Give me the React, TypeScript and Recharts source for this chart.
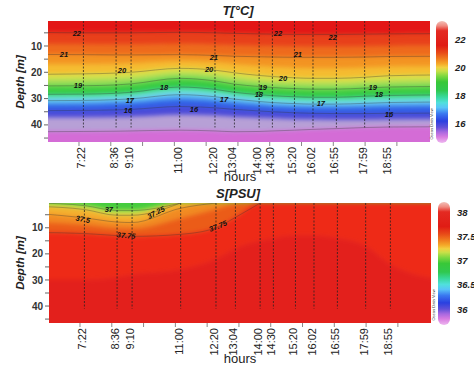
import React from 'react'
import {
  ComposedChart,
  Area,
  Line,
  XAxis,
  YAxis,
  ReferenceLine,
  ReferenceDot,
  BarChart,
  Bar
} from 'recharts'

const FONT = '"Liberation Sans", Arial, sans-serif'

// station casts (x axis labels)
const STATION_LABELS = ['7:22', '8:36', '9:10', '11:00', '12:20', '13:04', '14:00', '14:30', '15:20', '16:02', '16:55', '17:59', '18:55']
const MINOR_TICK_HOURS = [7.2, 8.4, 9.6, 10.8, 12, 13.2, 14.4, 15.6, 16.8, 18, 19.2]
const DEPTH_TICKS = [5, 10, 15, 20, 25, 30, 35, 40, 45]
const HOUR_MIN = 6.03
const HOUR_MAX = 20.45
const DEPTH_MIN = 0.5
const DEPTH_MAX = 46.5
const CAST_DEPTH = 41
// the gridded field reaches a bit past the plot frame on both sides
const FIELD_LEFT = 5.6
const FIELD_RIGHT = 20.9
const FIELD_TOP = -10
const FIELD_BOTTOM = 60

const toHours = (s: string) => {
  const [h, m] = s.split(':').map(Number)
  return h + m / 60
}
const STATION_HOURS = STATION_LABELS.map(toHours)
const GRID_HOURS = [FIELD_LEFT, ...STATION_HOURS, FIELD_RIGHT]

// temperature: depth of each isotherm at every grid column
const T_LEVELS = [22, 21.5, 21, 20.5, 20, 19.5, 19, 18.5, 18, 17.5, 17, 16.5, 16, 15.5, 15]
const T_22 = [4.8, 5.0, 5.0, 5.0, 4.8, 5.0, 5.2, 5.4, 5.5, 5.6, 5.6, 5.6, 5.5, 5.4, 5.3]
const T_21_5 = [9.3, 9.4, 9.5, 9.5, 9.2, 9.5, 9.8, 10.0, 10.1, 10.2, 10.3, 10.3, 10.2, 10.0, 9.9]
const T_21 = [13.2, 13.3, 13.4, 13.4, 13.3, 13.6, 13.9, 14.1, 14.2, 14.3, 14.3, 14.3, 14.2, 14.0, 13.9]
const T_20_5 = [17.0, 17.0, 16.9, 16.7, 15.9, 16.3, 17.0, 17.7, 18.0, 18.4, 18.6, 18.6, 18.3, 17.9, 17.7]
const T_20 = [20.8, 20.6, 20.3, 20.0, 18.5, 19.2, 20.2, 21.2, 21.6, 22.1, 22.3, 22.3, 21.9, 21.3, 21.0]
const T_19_5 = [23.0, 22.9, 22.6, 22.3, 20.5, 21.3, 22.4, 23.4, 23.8, 24.2, 24.4, 24.4, 24.0, 23.6, 23.3]
const T_19 = [25.2, 25.1, 24.8, 24.4, 22.3, 23.3, 24.5, 25.4, 25.8, 26.2, 26.4, 26.4, 26.0, 25.6, 25.4]
const T_18_5 = [26.9, 26.8, 26.5, 26.1, 24.0, 24.9, 26.1, 27.0, 27.4, 27.8, 28.0, 28.0, 27.6, 27.3, 27.1]
const T_18 = [28.4, 28.3, 28.0, 27.6, 25.6, 26.5, 27.6, 28.5, 28.9, 29.3, 29.5, 29.5, 29.1, 28.8, 28.6]
const T_17_5 = [29.6, 29.5, 29.2, 28.9, 27.1, 27.9, 28.9, 29.8, 30.2, 30.6, 30.8, 30.8, 30.5, 30.2, 30.0]
const T_17 = [30.8, 30.7, 30.4, 30.1, 28.5, 29.3, 30.2, 31.1, 31.5, 31.9, 32.1, 32.1, 31.8, 31.5, 31.3]
const T_16_5 = [32.4, 32.3, 32.0, 31.8, 30.4, 31.1, 31.9, 32.6, 33.0, 33.3, 33.5, 33.5, 33.3, 33.1, 32.9]
const T_16 = [34.6, 34.5, 34.3, 34.1, 33.0, 33.5, 34.1, 34.7, 35.0, 35.4, 35.6, 35.7, 35.7, 35.6, 35.5]
const T_15_5 = [37.3, 37.3, 37.1, 37.0, 36.2, 36.5, 37.0, 37.4, 37.6, 37.9, 38.0, 38.1, 38.1, 38.0, 37.9]
const T_15 = [42.6, 42.5, 42.4, 42.3, 42.0, 42.3, 42.6, 42.5, 42.3, 42.0, 41.7, 41.4, 41.0, 40.8, 40.7]
const T_ISOTHERMS = [T_22, T_21_5, T_21, T_20_5, T_20, T_19_5, T_19, T_18_5, T_18, T_17_5, T_17, T_16_5, T_16, T_15_5, T_15]

// salinity: depth of each isohaline (0.5 = reaches the surface)
const S_LEVELS = [37, 37.25, 37.5, 37.625, 37.75, 37.9]
const S_37 = [0.5, 1.5, 3.4, 3.4, 0.5, 0.5, 0.5, 0.5, 0.5, 0.5, 0.5, 0.5, 0.5, 0.5, 0.5]
const S_37_25 = [1.8, 3.0, 5.2, 5.2, 0.5, 0.5, 0.5, 0.5, 0.5, 0.5, 0.5, 0.5, 0.5, 0.5, 0.5]
const S_37_5 = [4.5, 6.2, 7.8, 8.0, 2.5, 0.5, 0.5, 0.5, 0.5, 0.5, 0.5, 0.5, 0.5, 0.5, 0.5]
const S_37_625 = [8.0, 9.0, 10.3, 10.5, 6.5, 3.0, 1.0, 0.5, 0.5, 0.5, 0.5, 0.5, 0.5, 0.5, 0.5]
const S_37_75 = [11.8, 12.2, 13.0, 13.3, 12.5, 10.0, 6.0, 0.5, 0.5, 0.5, 0.5, 0.5, 0.5, 0.5, 0.5]
const S_37_9 = [30, 30, 29, 28, 26, 22, 18, 15, 14, 13, 13, 14, 17, 24, 30]
const S_ISOHALINES = [S_37, S_37_25, S_37_5, S_37_625, S_37_75, S_37_9]

// contour labels
const T_LABELS = [
  { text: '22', hour: 7.12, depth: 5.1 },
  { text: '21', hour: 6.63, depth: 13.4 },
  { text: '20', hour: 8.82, depth: 19.5 },
  { text: '19', hour: 7.16, depth: 25.2 },
  { text: '18', hour: 10.41, depth: 25.6 },
  { text: '17', hour: 9.12, depth: 30.9 },
  { text: '16', hour: 9.05, depth: 34.7 },
  { text: '21', hour: 12.29, depth: 14.2 },
  { text: '20', hour: 12.11, depth: 19.1 },
  { text: '17', hour: 12.67, depth: 30.2 },
  { text: '16', hour: 11.54, depth: 34.0 },
  { text: '22', hour: 14.71, depth: 5.1 },
  { text: '21', hour: 15.46, depth: 13.4 },
  { text: '20', hour: 14.9, depth: 22.2 },
  { text: '19', hour: 14.14, depth: 25.6 },
  { text: '18', hour: 13.99, depth: 28.6 },
  { text: '17', hour: 16.33, depth: 32.0 },
  { text: '22', hour: 16.78, depth: 6.6 },
  { text: '19', hour: 18.29, depth: 25.6 },
  { text: '18', hour: 18.52, depth: 28.6 },
  { text: '16', hour: 18.9, depth: 35.9 }
]
const S_LABELS = [
  { text: '37', hour: 8.29, depth: 3.0 },
  { text: '37.5', hour: 7.31, depth: 6.8 },
  { text: '37.25', hour: 10.07, depth: 4.2 },
  { text: '37.75', hour: 8.94, depth: 13.0 },
  { text: '37.75', hour: 12.41, depth: 9.4 }
]
const S_LABEL_ANGLES = [0, 10, -28, 5, -22]

// colour scales
const T_BAND_COLORS = ['#e31616', '#e8401a', '#ee6a1c', '#f39422', '#f5bc30', '#d6e04a', '#98dc58', '#4ccf44', '#2cc83c', '#48d89c', '#74e2e6', '#56b0f2', '#3060e6', '#4a4ad8', '#b7a0d6', '#d46cd6']
const S_BAND_COLORS = ['#46cc3e', '#c6e04a', '#f4b02e', '#f18a22', '#eb5c18', '#ee2a17', '#e3201c']
const ODV_STOPS: [number, string][] = [
  [0, '#f2c0b8'], [0.04, '#f08a80'], [0.08, '#e42a22'], [0.2, '#e01c14'], [0.26, '#e84a18'],
  [0.31, '#f07c1e'], [0.35, '#f5a828'], [0.38, '#f2d040'], [0.41, '#c8e048'], [0.45, '#80d840'],
  [0.5, '#38c838'], [0.57, '#30c850'], [0.62, '#38d898'], [0.67, '#50e0dc'], [0.71, '#58c4f8'],
  [0.76, '#3a78f0'], [0.82, '#2a40e0'], [0.87, '#6050d8'], [0.91, '#a868e0'], [0.95, '#d87ce0'], [1, '#eeb8f0']
]

const T_SCALE = [14.6, 23.3]
const T_SCALE_TICKS = [16, 18, 20, 22]
const S_SCALE = [35.67, 38.23]
const S_SCALE_TICKS = [36, 36.5, 37, 37.5, 38]

type Row = { i: number; hour: number; lv: number[] }

const buildRows = (iso: number[][]): Row[] =>
  GRID_HOURS.map((hour, i) => ({ i, hour, lv: iso.map(a => a[i]) }))

const tRows = buildRows(T_ISOTHERMS)
const sRows = buildRows(S_ISOHALINES)

const Y_AXIS_W = 40
const X_AXIS_H = 34
const PAD = 8

const HourTick = (props: any) => {
  const { x, y, payload } = props
  const idx = STATION_HOURS.indexOf(payload.value)
  if (idx < 0) {
    return <line x1={x} x2={x} y1={y} y2={y + 4} stroke="#888" />
  }
  const tx = x - 2
  const ty = y + 5
  return (
    <text
      x={tx}
      y={ty}
      transform={`rotate(-90 ${tx} ${ty})`}
      textAnchor="end"
      dy="0.36em"
      fontSize={11}
      fill="#222"
      fontFamily={FONT}
    >
      {STATION_LABELS[idx]}
    </text>
  )
}

type Margin = { top: number; right: number; bottom: number; left: number }

// colour field: stepped bands, softened with a blur so they blend like the gridded ODV field
function Field({ rows, colors, margin, height }: { rows: Row[]; colors: string[]; margin: Margin; height: number }) {
  const x = margin.left + Y_AXIS_W
  const y = margin.top
  const w = 474 - margin.right - x
  const h = height - margin.top - margin.bottom - X_AXIS_H
  const dx = ((HOUR_MAX - HOUR_MIN) / w) * PAD
  const dy = ((DEPTH_MAX - DEPTH_MIN) / h) * PAD
  const n = rows[0].lv.length
  const bandKey = (k: number) => (row: any) => {
    if (!row || !row.lv) return null
    return [k === 0 ? FIELD_TOP : row.lv[k - 1], k === n ? FIELD_BOTTOM : row.lv[k]]
  }
  return (
    <div style={{ position: 'absolute', left: x, top: y, width: w, height: h, overflow: 'hidden' }}>
      <div style={{ position: 'absolute', left: -PAD, top: -PAD, filter: 'blur(2px)' }}>
        <ComposedChart width={w + 2 * PAD} height={h + 2 * PAD} data={rows} margin={{ top: 0, right: 0, bottom: 0, left: 0 }}>
          <XAxis type="number" dataKey="hour" domain={[HOUR_MIN - dx, HOUR_MAX + dx]} hide allowDataOverflow />
          <YAxis type="number" reversed domain={[DEPTH_MIN - dy, DEPTH_MAX + dy]} hide allowDataOverflow />
          {colors.map((c, k) => (
            <Area
              key={`band-${k}`}
              type="monotone"
              dataKey={bandKey(k)}
              fill={c}
              fillOpacity={1}
              stroke={c}
              strokeWidth={0.6}
              isAnimationActive={false}
              activeDot={false}
            />
          ))}
        </ComposedChart>
      </div>
    </div>
  )
}

interface SectionProps {
  rows: Row[]
  lineIdx: number[]
  labels: { text: string; hour: number; depth: number }[]
  angles?: number[]
  height: number
  margin: Margin
}

function Section({ rows, lineIdx, labels, angles, height, margin }: SectionProps) {
  const lineKey = (k: number) => (row: any) => {
    if (!row || !row.lv) return null
    const near = [row.i - 1, row.i, row.i + 1].some(j => rows[j] && rows[j].lv[k] > DEPTH_MIN)
    return near ? row.lv[k] : null
  }
  const ticks = [...STATION_HOURS, ...MINOR_TICK_HOURS].sort((a, b) => a - b)

  return (
    <ComposedChart width={474} height={height} data={rows} margin={margin}>
      <XAxis
        type="number"
        dataKey="hour"
        domain={[HOUR_MIN, HOUR_MAX]}
        ticks={ticks}
        interval={0}
        tick={<HourTick />}
        tickLine={false}
        axisLine={false}
        tickSize={0}
        tickMargin={0}
        height={X_AXIS_H}
        allowDataOverflow
      />
      <YAxis
        type="number"
        reversed
        domain={[DEPTH_MIN, DEPTH_MAX]}
        ticks={DEPTH_TICKS}
        interval={0}
        tickFormatter={(v: number) => (v % 10 === 0 ? String(v) : '')}
        width={Y_AXIS_W}
        tickSize={4}
        tickMargin={2}
        axisLine={false}
        tickLine={{ stroke: '#666' }}
        tick={{ fontSize: 10, fontWeight: 'bold', fill: '#333', fontFamily: FONT }}
        allowDataOverflow
      />
      {lineIdx.map(k => (
        <Line
          key={`iso-${k}`}
          type="monotone"
          dataKey={lineKey(k)}
          stroke="#333"
          strokeOpacity={0.42}
          strokeWidth={0.8}
          dot={false}
          activeDot={false}
          isAnimationActive={false}
        />
      ))}
      {STATION_HOURS.map(h => (
        <ReferenceLine
          key={`cast-${h}`}
          segment={[{ x: h, y: DEPTH_MIN }, { x: h, y: CAST_DEPTH }]}
          stroke="#222"
          strokeOpacity={0.75}
          strokeWidth={1}
          strokeDasharray="2 1.5"
        />
      ))}
      {labels.map((l, idx) => {
        const a = angles ? angles[idx] || 0 : 0
        return (
          <ReferenceDot
            key={`lbl-${idx}`}
            x={l.hour}
            y={l.depth}
            r={0}
            shape={(p: any) => (
              <text
                x={p.cx}
                y={p.cy}
                transform={`rotate(${a} ${p.cx} ${p.cy})`}
                textAnchor="middle"
                dominantBaseline="central"
                fontSize={7.5}
                fontStyle="italic"
                fontWeight="bold"
                fill="#111"
                fontFamily={FONT}
              >
                {l.text}
              </text>
            )}
          />
        )
      })}
    </ComposedChart>
  )
}

interface ColorBarProps {
  id: string
  domain: number[]
  ticks: number[]
  left: number
  top: number
  height: number
  marginTop: number
  marginBottom: number
}

function ColorBar({ id, domain, ticks, left, top, height, marginTop, marginBottom }: ColorBarProps) {
  return (
    <div style={{ position: 'absolute', left, top }}>
      <BarChart
        width={44}
        height={height}
        data={[{ name: 'scale', range: domain }]}
        margin={{ top: marginTop, bottom: marginBottom, left: 0, right: 0 }}
        barCategoryGap={0}
      >
        <defs>
          <linearGradient id={id} x1="0" y1="0" x2="0" y2="1">
            {ODV_STOPS.map(([o, c]) => (
              <stop key={o} offset={o} stopColor={c} />
            ))}
          </linearGradient>
        </defs>
        <XAxis dataKey="name" hide />
        <YAxis
          orientation="right"
          type="number"
          domain={domain}
          ticks={ticks}
          interval={0}
          width={22}
          axisLine={false}
          tickLine={false}
          tickSize={0}
          tickMargin={2}
          tick={{ fontSize: 9.5, fontWeight: 'bold', fontStyle: 'italic', fill: '#222', fontFamily: FONT }}
          allowDataOverflow
        />
        <Bar dataKey="range" fill={`url(#${id})`} barSize={12} radius={6} isAnimationActive={false} />
      </BarChart>
    </div>
  )
}

const textBase: React.CSSProperties = {
  position: 'absolute',
  fontFamily: FONT,
  color: '#222',
  whiteSpace: 'nowrap',
  textAlign: 'center'
}

const Title = ({ text, top }: { text: string; top: number }) => (
  <div style={{ ...textBase, left: 188, width: 100, top, fontSize: 13, lineHeight: '13px', fontWeight: 'bold', fontStyle: 'italic' }}>
    {text}
  </div>
)

const Hours = ({ top }: { top: number }) => (
  <div style={{ ...textBase, left: 200, width: 80, top, fontSize: 13, lineHeight: '13px' }}>hours</div>
)

const DepthTitle = ({ cy }: { cy: number }) => (
  <div
    style={{
      ...textBase,
      left: -20,
      width: 80,
      top: cy - 7,
      height: 14,
      lineHeight: '14px',
      fontSize: 11.5,
      fontWeight: 'bold',
      fontStyle: 'italic',
      transform: 'rotate(-90deg)'
    }}
  >
    Depth [m]
  </div>
)

const OdvMark = ({ x, cy }: { x: number; cy: number }) => (
  <div
    style={{
      ...textBase,
      left: x - 20,
      width: 40,
      top: cy - 2,
      height: 4,
      lineHeight: '4px',
      fontSize: 4,
      color: '#444',
      transform: 'rotate(-90deg)'
    }}
  >
    Ocean Data View
  </div>
)

const T_MARGIN = { top: 21, right: 44, bottom: 4, left: 8 }
const S_MARGIN = { top: 23, right: 43, bottom: 8, left: 9 }

export default function App() {
  return (
    <div
      style={{
        position: 'absolute',
        left: 0,
        top: 0,
        width: 474,
        height: 365,
        background: '#fff',
        overflow: 'hidden',
        fontFamily: FONT
      }}
    >
      <div style={{ position: 'absolute', left: 0, top: 0 }}>
        <Field rows={tRows} colors={T_BAND_COLORS} margin={T_MARGIN} height={180} />
        <div style={{ position: 'absolute', left: 0, top: 0 }}>
          <Section
            rows={tRows}
            lineIdx={T_LEVELS.map((l, i) => (Number.isInteger(l) ? i : -1)).filter(i => i >= 0)}
            labels={T_LABELS}
            height={180}
            margin={T_MARGIN}
          />
        </div>
      </div>
      <div style={{ position: 'absolute', left: 0, top: 180 }}>
        <Field rows={sRows} colors={S_BAND_COLORS} margin={S_MARGIN} height={185} />
        <div style={{ position: 'absolute', left: 0, top: 0 }}>
          <Section
            rows={sRows}
            lineIdx={S_LEVELS.map((l, i) => ([37, 37.25, 37.5, 37.75].includes(l) ? i : -1)).filter(i => i >= 0)}
            labels={S_LABELS}
            angles={S_LABEL_ANGLES}
            height={185}
            margin={S_MARGIN}
          />
        </div>
      </div>

      <ColorBar id="tScale" domain={T_SCALE} ticks={T_SCALE_TICKS} left={431} top={0} height={180} marginTop={21} marginBottom={37} />
      <ColorBar id="sScale" domain={S_SCALE} ticks={S_SCALE_TICKS} left={433} top={180} height={185} marginTop={22} marginBottom={40} />
      <OdvMark x={432} cy={124} />
      <OdvMark x={434} cy={305} />

      <Title text="T[°C]" top={4} />
      <Hours top={170} />
      <Title text="S[PSU]" top={187} />
      <Hours top={352} />
      <DepthTitle cy={82} />
      <DepthTitle cy={263} />
    </div>
  )
}
